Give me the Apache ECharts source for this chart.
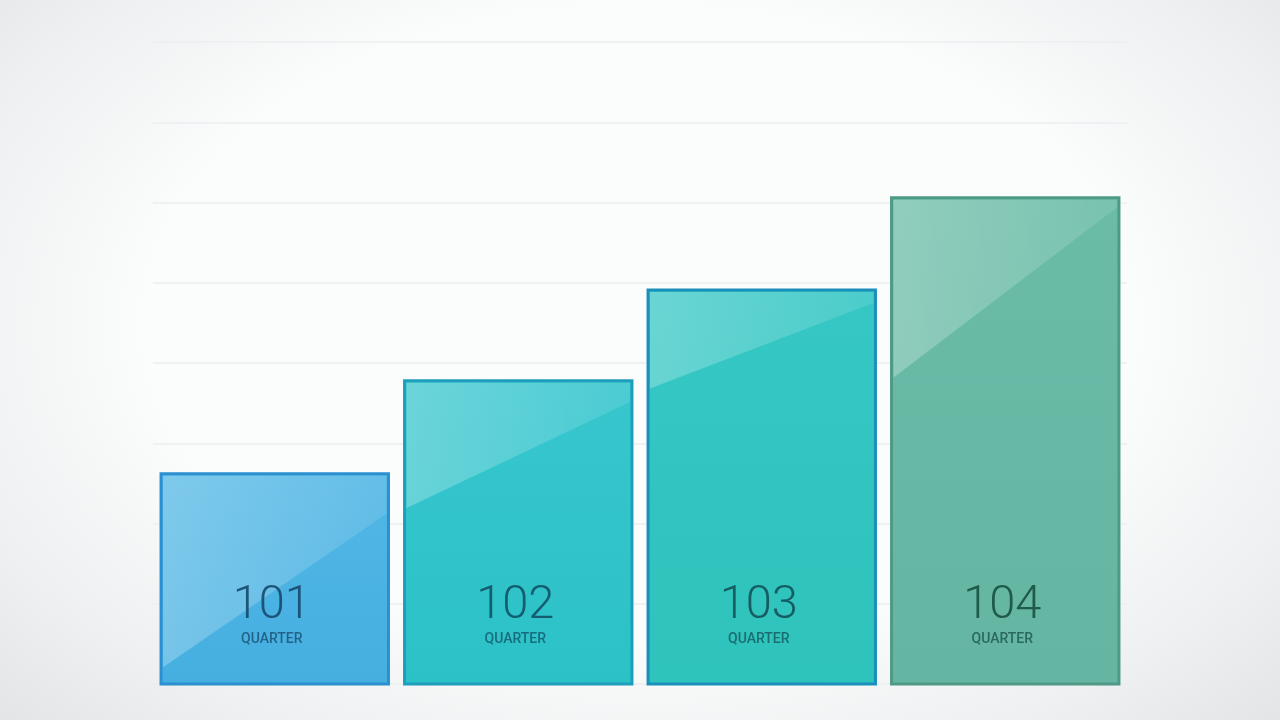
<!DOCTYPE html>
<html>
<head>
<meta charset="utf-8">
<script src="https://cdn.jsdelivr.net/npm/echarts@6/dist/echarts.min.js"></script>
<style>
  html, body { margin:0; padding:0; width:1280px; height:720px; overflow:hidden;
    background: radial-gradient(ellipse 70% 80% at 50% 45%, #fbfcfc 55%, #eef0f1 80%, #e2e4e6 100%); }
  #chart { width:1280px; height:720px; }
</style>
</head>
<body>
<div id="chart"></div>
<script>
// ---- data ----
const categories = ['Q1', 'Q2', 'Q3', 'Q4'];
const values = [26.2, 37.8, 49.1, 60.6];
const numberLabels = ['101', '102', '103', '104'];
const subLabels = ['QUARTER', 'QUARTER', 'QUARTER', 'QUARTER'];
const yTicks = { min: 0, max: 80, interval: 10 };

// ---- styles (per bar) ----
const barStyles = [
  { top: '#52b7e5', bottom: '#45afe0', border: '#2b8fd0', glossL: 0.92, glossR: 0.19, text: '#184f72' },
  { top: '#38c6ce', bottom: '#2bc2c7', border: '#1f9dbd', glossL: 0.42, glossR: 0.07, text: '#13566a' },
  { top: '#36c7c5', bottom: '#2ec3bb', border: '#1a8fbc', glossL: 0.25, glossR: 0.033, text: '#14575e' },
  { top: '#6abca7', bottom: '#64b6a3', border: '#4e9a87', glossL: 0.37, glossR: 0.02, text: '#1b5448' }
];

const chart = echarts.init(document.getElementById('chart'), null, { renderer: 'canvas' });

chart.setOption({
  backgroundColor: 'transparent',
  animation: false,
  grid: { left: 153, right: 153, top: 42, bottom: 36 },
  xAxis: {
    type: 'category',
    data: categories,
    axisLine: { show: false },
    axisTick: { show: false },
    axisLabel: { show: false },
    splitLine: { show: false }
  },
  yAxis: {
    type: 'value',
    min: yTicks.min,
    max: yTicks.max,
    interval: yTicks.interval,
    axisLine: { show: false },
    axisTick: { show: false },
    axisLabel: { show: false },
    splitLine: { show: true, lineStyle: { color: '#ebeef0', width: 1.5 } }
  },
  series: [{
    type: 'custom',
    data: values.map((v, i) => [i, v]),
    encode: { x: 0, y: 1 },
    renderItem: function (params, api) {
      const idx = api.value(0);
      const v = api.value(1);
      const topPt = api.coord([idx, v]);
      const basePt = api.coord([idx, 0]);
      const band = api.size([1, 0])[0];
      const w = band * 0.934;
      const cx = topPt[0];
      const L = cx - w / 2, R = cx + w / 2, T = topPt[1], B = basePt[1];
      const h = B - T;
      const s = barStyles[idx];
      return {
        type: 'group',
        children: [
          {
            type: 'rect',
            shape: { x: L, y: T, width: w, height: h },
            style: {
              fill: new echarts.graphic.LinearGradient(0, 0, 0, 1, [
                { offset: 0, color: s.top }, { offset: 1, color: s.bottom }
              ]),
              stroke: s.border,
              lineWidth: 3
            },
            z2: 1
          },
          {
            type: 'polygon',
            shape: { points: [[L + 2, T + 2], [R - 2, T + 2], [R - 2, T + h * s.glossR], [L + 2, T + h * s.glossL]] },
            style: {
              fill: new echarts.graphic.LinearGradient(0, 0, 1, 0, [
                { offset: 0, color: 'rgba(255,255,255,0.26)' },
                { offset: 1, color: 'rgba(255,255,255,0.10)' }
              ])
            },
            z2: 2
          },
          {
            type: 'text',
            style: {
              text: numberLabels[idx],
              x: cx - 3,
              y: B - 78,
              align: 'center',
              verticalAlign: 'middle',
              fontFamily: 'Roboto',
              fontWeight: 300,
              fontSize: 47,
              fill: s.text,
              opacity: 0.95
            },
            z2: 3
          },
          {
            type: 'text',
            style: {
              text: subLabels[idx],
              x: cx - 3,
              y: B - 45,
              align: 'center',
              verticalAlign: 'middle',
              fontFamily: 'Roboto',
              fontWeight: 500,
              fontSize: 14,
              fill: s.text,
              opacity: 0.8
            },
            z2: 3
          }
        ]
      };
    }
  }]
});
</script>
</body>
</html>
